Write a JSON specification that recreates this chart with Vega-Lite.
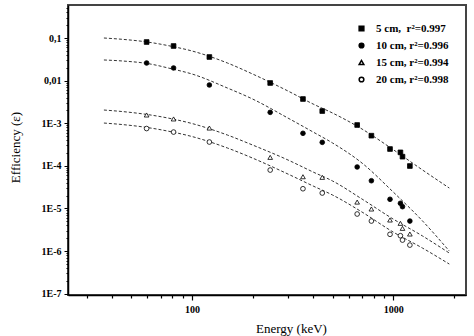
{
  "$schema": "https://vega.github.io/schema/vega-lite/v6.json",
  "width": 398,
  "height": 290,
  "autosize": {"type": "none"},
  "padding": {"left": 68, "top": 5, "right": 8, "bottom": 41},
  "background": "white",
  "config": {"view": {"stroke": "#444", "strokeWidth": 2}, "font": "Liberation Serif"},
  "datasets": {
    "curves": [
      {"series": "5", "energy": 36.5, "eff": 0.1},
      {"series": "5", "energy": 45, "eff": 0.0932},
      {"series": "5", "energy": 60, "eff": 0.0805},
      {"series": "5", "energy": 80, "eff": 0.0632},
      {"series": "5", "energy": 100, "eff": 0.0496},
      {"series": "5", "energy": 150, "eff": 0.0259},
      {"series": "5", "energy": 200, "eff": 0.0143},
      {"series": "5", "energy": 300, "eff": 0.0057},
      {"series": "5", "energy": 400, "eff": 0.00282},
      {"series": "5", "energy": 500, "eff": 0.00173},
      {"series": "5", "energy": 700, "eff": 0.00073},
      {"series": "5", "energy": 1000, "eff": 0.00024},
      {"series": "5", "energy": 1400, "eff": 0.0000796},
      {"series": "5", "energy": 1900, "eff": 0.0000301},
      {"series": "10", "energy": 36.5, "eff": 0.0305},
      {"series": "10", "energy": 45, "eff": 0.0289},
      {"series": "10", "energy": 60, "eff": 0.0252},
      {"series": "10", "energy": 80, "eff": 0.0187},
      {"series": "10", "energy": 100, "eff": 0.0143},
      {"series": "10", "energy": 150, "eff": 0.0067},
      {"series": "10", "energy": 200, "eff": 0.0037},
      {"series": "10", "energy": 300, "eff": 0.00132},
      {"series": "10", "energy": 400, "eff": 0.000621},
      {"series": "10", "energy": 500, "eff": 0.000343},
      {"series": "10", "energy": 700, "eff": 0.000116},
      {"series": "10", "energy": 1000, "eff": 0.0000243},
      {"series": "10", "energy": 1400, "eff": 0.00000506},
      {"series": "10", "energy": 1900, "eff": 0.000001},
      {"series": "15", "energy": 36.5, "eff": 0.00204},
      {"series": "15", "energy": 45, "eff": 0.00188},
      {"series": "15", "energy": 60, "eff": 0.0016},
      {"series": "15", "energy": 80, "eff": 0.00126},
      {"series": "15", "energy": 100, "eff": 0.000984},
      {"series": "15", "energy": 150, "eff": 0.000528},
      {"series": "15", "energy": 200, "eff": 0.000308},
      {"series": "15", "energy": 300, "eff": 0.000137},
      {"series": "15", "energy": 400, "eff": 0.0000715},
      {"series": "15", "energy": 500, "eff": 0.000044},
      {"series": "15", "energy": 700, "eff": 0.0000166},
      {"series": "15", "energy": 1000, "eff": 0.00000563},
      {"series": "15", "energy": 1400, "eff": 0.00000225},
      {"series": "15", "energy": 1900, "eff": 0.000000898},
      {"series": "20", "energy": 36.5, "eff": 0.00101},
      {"series": "20", "energy": 45, "eff": 0.000931},
      {"series": "20", "energy": 60, "eff": 0.000792},
      {"series": "20", "energy": 80, "eff": 0.000621},
      {"series": "20", "energy": 100, "eff": 0.000487},
      {"series": "20", "energy": 150, "eff": 0.000262},
      {"series": "20", "energy": 200, "eff": 0.000152},
      {"series": "20", "energy": 300, "eff": 0.0000641},
      {"series": "20", "energy": 400, "eff": 0.0000336},
      {"series": "20", "energy": 500, "eff": 0.0000206},
      {"series": "20", "energy": 700, "eff": 0.00000822},
      {"series": "20", "energy": 1000, "eff": 0.00000279},
      {"series": "20", "energy": 1400, "eff": 0.00000117},
      {"series": "20", "energy": 1900, "eff": 0.000000495}
    ],
    "points": [
      {"series": "5 cm,\u00a0 r²=0.997", "energy": 59.5, "eff": 0.0805},
      {"series": "5 cm,\u00a0 r²=0.997", "energy": 81, "eff": 0.0649},
      {"series": "5 cm,\u00a0 r²=0.997", "energy": 122, "eff": 0.0358},
      {"series": "5 cm,\u00a0 r²=0.997", "energy": 244.7, "eff": 0.00879},
      {"series": "5 cm,\u00a0 r²=0.997", "energy": 356, "eff": 0.0037},
      {"series": "5 cm,\u00a0 r²=0.997", "energy": 444, "eff": 0.00193},
      {"series": "5 cm,\u00a0 r²=0.997", "energy": 662, "eff": 0.000908},
      {"series": "5 cm,\u00a0 r²=0.997", "energy": 779, "eff": 0.00051},
      {"series": "5 cm,\u00a0 r²=0.997", "energy": 964, "eff": 0.000248},
      {"series": "5 cm,\u00a0 r²=0.997", "energy": 1086, "eff": 0.000207},
      {"series": "5 cm,\u00a0 r²=0.997", "energy": 1112, "eff": 0.000164},
      {"series": "5 cm,\u00a0 r²=0.997", "energy": 1210, "eff": 0.000099},
      {"series": "10 cm, r²=0.996", "energy": 59.5, "eff": 0.0259},
      {"series": "10 cm, r²=0.996", "energy": 81, "eff": 0.0198},
      {"series": "10 cm, r²=0.996", "energy": 122, "eff": 0.00789},
      {"series": "10 cm, r²=0.996", "energy": 244.7, "eff": 0.0018},
      {"series": "10 cm, r²=0.996", "energy": 356, "eff": 0.00058},
      {"series": "10 cm, r²=0.996", "energy": 444, "eff": 0.000356},
      {"series": "10 cm, r²=0.996", "energy": 662, "eff": 0.000094},
      {"series": "10 cm, r²=0.996", "energy": 779, "eff": 0.0000447},
      {"series": "10 cm, r²=0.996", "energy": 964, "eff": 0.0000164},
      {"series": "10 cm, r²=0.996", "energy": 1086, "eff": 0.0000132},
      {"series": "10 cm, r²=0.996", "energy": 1112, "eff": 0.000011},
      {"series": "10 cm, r²=0.996", "energy": 1210, "eff": 0.00000506},
      {"series": "15 cm, r²=0.994", "energy": 59.5, "eff": 0.00156},
      {"series": "15 cm, r²=0.994", "energy": 81, "eff": 0.00126},
      {"series": "15 cm, r²=0.994", "energy": 122, "eff": 0.000771},
      {"series": "15 cm, r²=0.994", "energy": 244.7, "eff": 0.000158},
      {"series": "15 cm, r²=0.994", "energy": 356, "eff": 0.0000555},
      {"series": "15 cm, r²=0.994", "energy": 444, "eff": 0.0000537},
      {"series": "15 cm, r²=0.994", "energy": 662, "eff": 0.0000141},
      {"series": "15 cm, r²=0.994", "energy": 779, "eff": 0.0000097},
      {"series": "15 cm, r²=0.994", "energy": 964, "eff": 0.00000535},
      {"series": "15 cm, r²=0.994", "energy": 1086, "eff": 0.00000447},
      {"series": "15 cm, r²=0.994", "energy": 1112, "eff": 0.00000341},
      {"series": "15 cm, r²=0.994", "energy": 1210, "eff": 0.00000251},
      {"series": "20 cm, r²=0.998", "energy": 59.5, "eff": 0.00075},
      {"series": "20 cm, r²=0.998", "energy": 81, "eff": 0.00062},
      {"series": "20 cm, r²=0.998", "energy": 122, "eff": 0.000362},
      {"series": "20 cm, r²=0.998", "energy": 244.7, "eff": 0.0000796},
      {"series": "20 cm, r²=0.998", "energy": 356, "eff": 0.000029},
      {"series": "20 cm, r²=0.998", "energy": 444, "eff": 0.000023},
      {"series": "20 cm, r²=0.998", "energy": 662, "eff": 0.0000074},
      {"series": "20 cm, r²=0.998", "energy": 779, "eff": 0.00000506},
      {"series": "20 cm, r²=0.998", "energy": 964, "eff": 0.00000247},
      {"series": "20 cm, r²=0.998", "energy": 1086, "eff": 0.00000229},
      {"series": "20 cm, r²=0.998", "energy": 1112, "eff": 0.00000181},
      {"series": "20 cm, r²=0.998", "energy": 1210, "eff": 0.00000138}
    ]
  },
  "layer": [
    {
      "data": {"name": "curves"},
      "mark": {"type": "line", "strokeDash": [3, 2], "strokeWidth": 1, "color": "#333", "interpolate": "monotone"},
      "encoding": {
        "x": {
          "field": "energy", "type": "quantitative",
          "scale": {"type": "log", "domain": [24.2, 2300], "nice": false},
          "axis": {
            "values": [30, 40, 50, 60, 70, 80, 90, 100, 200, 300, 400, 500, 600, 700, 800, 900, 1000, 2000],
            "labelExpr": "datum.value == 100 ? '100' : datum.value == 1000 ? '1000' : ''",
            "labelOverlap": false,
            "labelFont": "Liberation Serif", "labelFontWeight": "bold", "labelFontSize": 10, "labelColor": "black",
            "labelPadding": 4,
            "tickColor": "black", "tickWidth": 1.2,
            "tickSize": {"condition": {"test": "datum.value == 100 || datum.value == 1000", "value": 5}, "value": 3},
            "domainColor": "black", "domainWidth": 1.5, "grid": false,
            "title": "Energy (keV)", "titleFont": "Liberation Serif", "titleFontSize": 13, "titleFontWeight": "normal",
            "titleColor": "black", "titleX": 223, "titleY": 37, "titleBaseline": "alphabetic"
          }
        },
        "y": {
          "field": "eff", "type": "quantitative",
          "scale": {"type": "log", "domain": [9.3e-8, 0.595], "nice": false},
          "axis": {
            "values": [1e-7, 2e-7, 3e-7, 4e-7, 5e-7, 6e-7, 7e-7, 8e-7, 9e-7,
                       1e-6, 2e-6, 3e-6, 4e-6, 5e-6, 6e-6, 7e-6, 8e-6, 9e-6,
                       1e-5, 2e-5, 3e-5, 4e-5, 5e-5, 6e-5, 7e-5, 8e-5, 9e-5,
                       1e-4, 2e-4, 3e-4, 4e-4, 5e-4, 6e-4, 7e-4, 8e-4, 9e-4,
                       0.001, 0.002, 0.003, 0.004, 0.005, 0.006, 0.007, 0.008, 0.009,
                       0.01, 0.02, 0.03, 0.04, 0.05, 0.06, 0.07, 0.08, 0.09,
                       0.1, 0.2, 0.3, 0.4, 0.5],
            "labelExpr": "datum.value == 0.1 ? '0,1' : datum.value == 0.01 ? '0,01' : (abs(log(datum.value)/LN10 - round(log(datum.value)/LN10)) < 0.001 ? '1E' + round(log(datum.value)/LN10) : '')",
            "labelOverlap": false,
            "labelFont": "Liberation Serif", "labelFontWeight": "bold", "labelFontSize": 10, "labelColor": "black",
            "labelPadding": 3,
            "tickColor": "black", "tickWidth": 1,
            "tickSize": {"condition": {"test": "abs(log(datum.value)/LN10 - round(log(datum.value)/LN10)) < 0.001", "value": 4}, "value": 2},
            "domainColor": "black", "domainWidth": 1.5, "grid": false,
            "title": "Efficiency (ε)", "titleFont": "Liberation Serif", "titleFontSize": 13, "titleFontWeight": "normal",
            "titleColor": "black", "titleX": -49, "titleY": 142, "titleBaseline": "alphabetic"
          }
        },
        "detail": {"field": "series", "type": "nominal"}
      }
    },
    {
      "data": {"name": "points"},
      "mark": {"type": "point", "size": 22, "stroke": "black", "strokeWidth": 0.8, "opacity": 1},
      "encoding": {
        "x": {"field": "energy", "type": "quantitative", "scale": {"type": "log", "domain": [24.2, 2300], "nice": false}},
        "y": {"field": "eff", "type": "quantitative", "scale": {"type": "log", "domain": [9.3e-8, 0.595], "nice": false}},
        "shape": {
          "field": "series", "type": "nominal",
          "scale": {"domain": ["5 cm,\u00a0 r²=0.997", "10 cm, r²=0.996", "15 cm, r²=0.994", "20 cm, r²=0.998"], "range": ["square", "circle", "triangle-up", "circle"]},
          "legend": {"title": null, "orient": "none", "legendX": 288, "legendY": 18,
            "labelFont": "Liberation Serif", "labelFontWeight": "bold", "labelFontSize": 11, "labelColor": "black",
            "symbolSize": 22, "rowPadding": 5, "labelOffset": 9,
            "encode": {"symbols": {"update": {"stroke": {"value": "black"}, "strokeWidth": {"value": 0.8}, "opacity": {"value": 1}}}}}
        },
        "fill": {
          "field": "series", "type": "nominal",
          "scale": {"domain": ["5 cm,\u00a0 r²=0.997", "10 cm, r²=0.996", "15 cm, r²=0.994", "20 cm, r²=0.998"], "range": ["black", "black", "white", "white"]},
          "legend": {"title": null, "orient": "none", "legendX": 288, "legendY": 18,
            "labelFont": "Liberation Serif", "labelFontWeight": "bold", "labelFontSize": 11, "labelColor": "black",
            "symbolSize": 22, "rowPadding": 5, "labelOffset": 9,
            "encode": {"symbols": {"update": {"stroke": {"value": "black"}, "strokeWidth": {"value": 0.8}, "opacity": {"value": 1}}}}}
        }
      }
    }
  ]
}
